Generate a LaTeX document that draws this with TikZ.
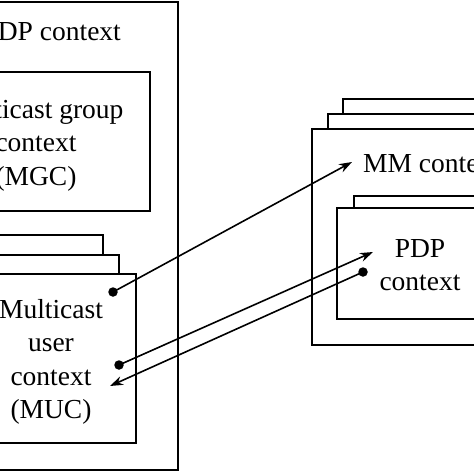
\documentclass[tikz,border=0pt]{standalone}
\usepackage{fontspec}
\setmainfont{Liberation Serif}
\usetikzlibrary{calc}
\usetikzlibrary{arrows.meta}
\tikzset{ctx/.style={draw=black,fill=white,line width=1.7pt}}
\tikzset{dot/.style={circle,fill=black,inner sep=0pt,minimum size=9.5pt}}
\newcommand{\ctxlayer}[2]{%
	\draw[ctx] #1 rectangle #2;%
}

\begin{document}
\begin{tikzpicture}[x=1pt,y=-1pt,line width=1.6pt]
	\useasboundingbox (0,0) rectangle (474,474);
	\clip (0,0) rectangle (474,474);
	\tikzset{every node/.style={font=\fontsize{27.5}{33.5}\selectfont,align=center}}
	% left side
	\ctxlayer{(-80,2)}{(178,470)}
	\node[anchor=base east] (pdpleft) at (125,40) {PDP context};
	\ctxlayer{(-80,72)}{(150,211)}
	\node (mgc) at (36,145) {Multicast group\\context\\(MGC)};
	\ctxlayer{(-80,235)}{(103,400)}
	\ctxlayer{(-80,255)}{(119,420)}
	\ctxlayer{(-80,274)}{(136,443)}
	\node (muc) at (51,362) {Multicast\\user\\context\\(MUC)};
	% right side
	\ctxlayer{(343,99)}{(540,300)}
	\ctxlayer{(328,114)}{(540,320)}
	\ctxlayer{(312,129)}{(540,345)}
	\node[anchor=base west] (mm) at (359,172) {MM context};
	\ctxlayer{(354,196)}{(540,300)}
	\ctxlayer{(337,208)}{(540,319)}
	\node (pdpright) at (420,265) {PDP\\context};
	% links
	\node[dot] (mucmm) at (113,292) {};
	\node[dot] (mucpdp) at (119,365) {};
	\node[dot] (pdpmuc) at (363,272) {};
	\coordinate (mmin) at (352,162);
	\coordinate (pdpin) at (373,252);
	\coordinate (mucin) at (110,386);
	\draw[-{Stealth[length=13pt,width=9pt]}] (mucmm.center) -- (mmin);
	\draw[-{Stealth[length=13pt,width=9pt]}] (mucpdp.center) -- (pdpin);
	\draw[-{Stealth[length=13pt,width=9pt]}] (pdpmuc.center) -- (mucin);
\end{tikzpicture}
\end{document}
